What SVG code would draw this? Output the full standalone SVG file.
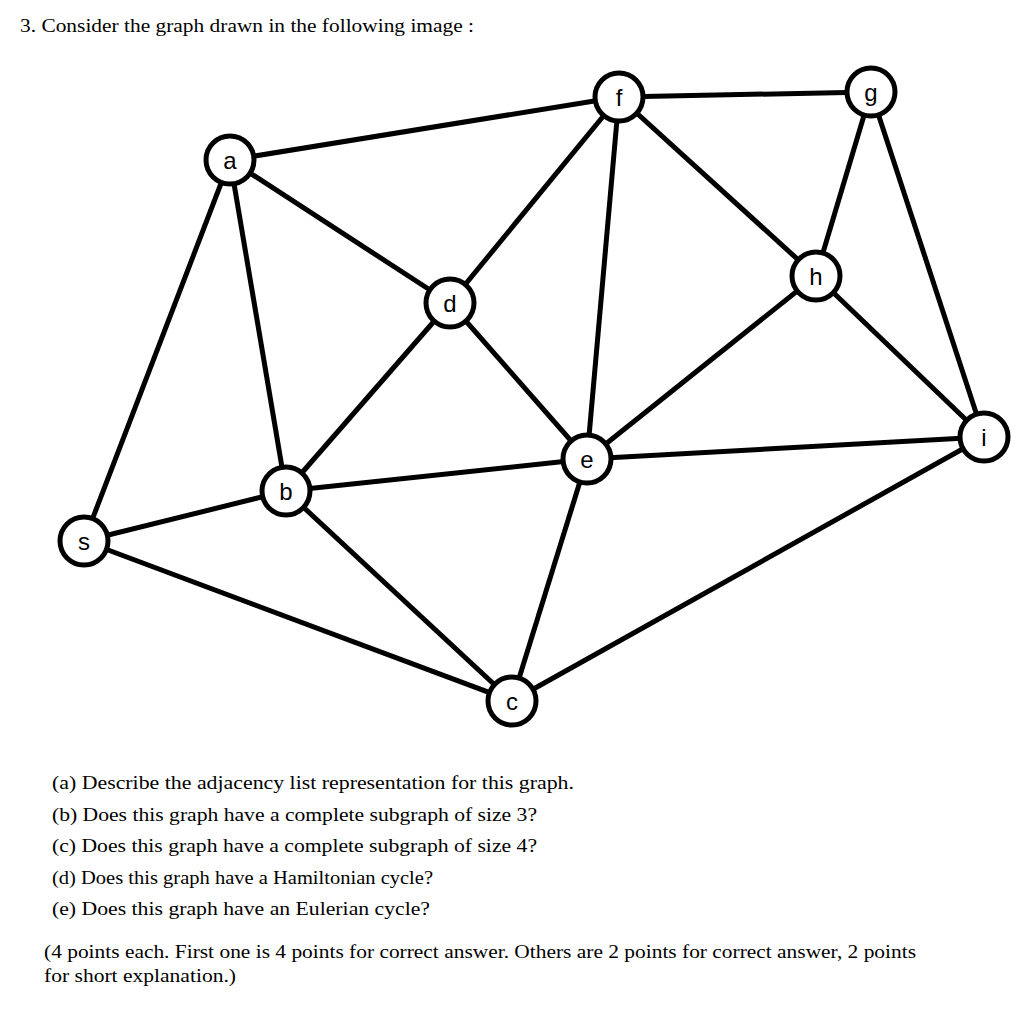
<svg xmlns="http://www.w3.org/2000/svg" width="1028" height="1014" viewBox="0 0 1028 1014">
<style>
.t{font-family:"Liberation Serif",serif;font-size:18.5px;fill:#000}
.n circle{fill:#fff;stroke:#000;stroke-width:5}
.n text{font-family:"Liberation Sans",sans-serif;font-size:24px;text-anchor:middle;fill:#000}
#edges line{stroke:#000;stroke-width:5}
</style>
<rect width="1028" height="1014" fill="#fff"/>
<text class="t" x="20" y="32" textLength="454" lengthAdjust="spacingAndGlyphs">3. Consider the graph drawn in the following image :</text>
<g id="edges">
<line x1="230" y1="160" x2="619" y2="97"/>
<line x1="619" y1="97" x2="871" y2="92"/>
<line x1="230" y1="160" x2="450" y2="303"/>
<line x1="230" y1="160" x2="84" y2="541"/>
<line x1="230" y1="160" x2="286" y2="491"/>
<line x1="619" y1="97" x2="450" y2="303"/>
<line x1="619" y1="97" x2="587" y2="459"/>
<line x1="619" y1="97" x2="816" y2="276"/>
<line x1="871" y1="92" x2="816" y2="276"/>
<line x1="871" y1="92" x2="984" y2="437"/>
<line x1="816" y1="276" x2="984" y2="437"/>
<line x1="816" y1="276" x2="587" y2="459"/>
<line x1="450" y1="303" x2="286" y2="491"/>
<line x1="450" y1="303" x2="587" y2="459"/>
<line x1="286" y1="491" x2="587" y2="459"/>
<line x1="587" y1="459" x2="984" y2="437"/>
<line x1="84" y1="541" x2="286" y2="491"/>
<line x1="84" y1="541" x2="512" y2="701"/>
<line x1="286" y1="491" x2="512" y2="701"/>
<line x1="587" y1="459" x2="512" y2="701"/>
<line x1="512" y1="701" x2="984" y2="437"/>
</g>
<g id="a" class="n"><circle cx="230" cy="160" r="24"/><text x="230" y="169">a</text></g>
<g id="f" class="n"><circle cx="619" cy="97" r="24"/><text x="619" y="106">f</text></g>
<g id="g" class="n"><circle cx="871" cy="92" r="24"/><text x="871" y="101">g</text></g>
<g id="d" class="n"><circle cx="450" cy="303" r="24"/><text x="450" y="312">d</text></g>
<g id="h" class="n"><circle cx="816" cy="276" r="24"/><text x="816" y="285">h</text></g>
<g id="e" class="n"><circle cx="587" cy="459" r="24"/><text x="587" y="468">e</text></g>
<g id="i" class="n"><circle cx="984" cy="437" r="24"/><text x="984" y="446">i</text></g>
<g id="b" class="n"><circle cx="286" cy="491" r="24"/><text x="286" y="500">b</text></g>
<g id="s" class="n"><circle cx="84" cy="541" r="24"/><text x="84" y="550">s</text></g>
<g id="c" class="n"><circle cx="512" cy="701" r="24"/><text x="512" y="710">c</text></g>
<text class="t" x="52" y="789" textLength="522" lengthAdjust="spacingAndGlyphs">(a) Describe the adjacency list representation for this graph.</text>
<text class="t" x="52" y="821" textLength="485" lengthAdjust="spacingAndGlyphs">(b) Does this graph have a complete subgraph of size 3?</text>
<text class="t" x="52" y="852" textLength="485" lengthAdjust="spacingAndGlyphs">(c) Does this graph have a complete subgraph of size 4?</text>
<text class="t" x="52" y="884" textLength="381" lengthAdjust="spacingAndGlyphs">(d) Does this graph have a Hamiltonian cycle?</text>
<text class="t" x="52" y="915" textLength="378" lengthAdjust="spacingAndGlyphs">(e) Does this graph have an Eulerian cycle?</text>
<text class="t" x="44" y="958" textLength="872" lengthAdjust="spacingAndGlyphs">(4 points each. First one is 4 points for correct answer. Others are 2 points for correct answer, 2 points</text>
<text class="t" x="44" y="982" textLength="192" lengthAdjust="spacingAndGlyphs">for short explanation.)</text>
</svg>
